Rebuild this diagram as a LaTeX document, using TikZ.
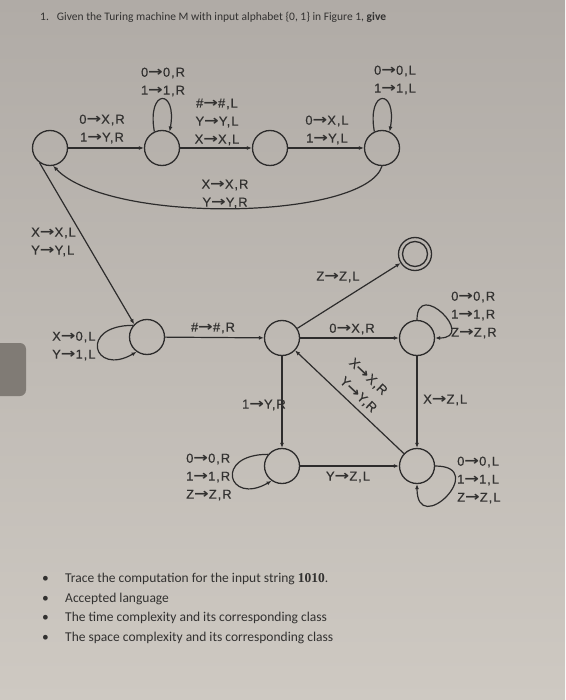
\documentclass[tikz,border=0pt]{standalone}
\usepackage{fontspec}
\setmainfont{Liberation Sans}
\newfontfamily\lblfont[FakeBold=0.3,LetterSpace=7]{Liberation Sans}
\newfontfamily\hdrfont{Carlito}
\newfontfamily\arrfont{DejaVu Sans}
\newfontfamily\numfont{Liberation Serif}
\usetikzlibrary{arrows.meta}
\newcommand\ra{\scalebox{1.35}[1.05]{\arrfont\bfseries →}}
\definecolor{bgtop}{RGB}{176,171,166}
\definecolor{bgmid}{RGB}{198,194,188}
\definecolor{bgbot}{RGB}{206,201,194}
\definecolor{tabc}{RGB}{128,123,117}
\definecolor{ln}{RGB}{45,44,44}
\definecolor{txt}{RGB}{50,49,48}
\begin{document}
\begin{tikzpicture}[x=1pt,y=1pt,
  st/.style={circle,draw=ln,line width=1.3pt,minimum size=35pt,inner sep=0pt},
  ed/.style={draw=ln,line width=1.2pt,-{Latex[length=5pt,width=4pt]}},
  lb/.style={text=txt,font=\lblfont\fontsize{13}{18}\selectfont,align=center,inner sep=0pt},
  lbl/.style={lb,align=left},
  tx/.style={text=txt,inner sep=0pt,anchor=base west}]
\shade[top color=bgtop, middle color=bgmid, bottom color=bgbot] (0,0) rectangle (565,-700);
\useasboundingbox (0,0) rectangle (565,-700);
\fill[tabc, rounded corners=6pt] (-12,-343) rectangle (26,-396);

% header
\node[tx,font=\hdrfont\fontsize{11.5}{13}\selectfont] (hd) at (40,-21)
  {1.\hspace{8pt}Given the Turing machine M with input alphabet \{0, 1\} in Figure 1, \textbf{give}};

% states
\node[st] (q0) at (50,-148) {};
\node[st] (q1) at (162,-148) {};
\node[st] (q2) at (270,-148) {};
\node[st] (q3) at (382,-148) {};
\node[st] (q4) at (147,-337) {};
\node[st] (q5) at (282,-338) {};
\node[st] (q6) at (417,-338) {};
\node[st,minimum size=33pt] (acc) at (415,-254) {};
\draw[ln,line width=1.3pt] (acc.center) circle (12.5pt);
\node[st] (q7) at (282,-466) {};
\node[st] (q8) at (417,-466) {};

% edges
\draw[ed] (q0) -- (q1);
\draw[ed] (q1) -- (q2);
\draw[ed] (q2) -- (q3);
\draw[ed] (q1.115) .. controls +(100:44) and +(80:44) .. (q1.65);
\draw[ed] (q3.115) .. controls +(100:44) and +(80:44) .. (q3.65);
\draw[ed] (q3.south) .. controls (365,-220) and (110,-225) .. (q0.-80);
\draw[ed] (q0.235) -- (q4.135);
\draw[ed] (q4.140) .. controls +(180:55) and +(210:50) .. (q4.235);
\draw[ed] (q4) -- (q5);
\draw[ed] (q5) -- (acc);
\draw[ed] (q5) -- (q6);
\draw[ed] (q6.north) .. controls +(90:42) and +(0:42) .. (q6.east);
\draw[ed] (q5) -- (q7);
\draw[ed] (q6) -- (q8);
\draw[ed] (q8) -- (q5);
\draw[ed] (q7.140) .. controls +(180:55) and +(210:50) .. (q7.235);
\draw[ed] (q7) -- (q8);
\draw[ed] (q8.east) .. controls +(0:55) and +(270:55) .. (q8.south);

% labels
\node[lb] (l01) at (102,-129) {0\ra X,R\\1\ra Y,R};
\node[lb] (l11) at (163,-82) {0\ra 0,R\\1\ra 1,R};
\node[lb] (l12) at (217,-122) {\#\ra\#,L\\Y\ra Y,L\\X\ra X,L};
\node[lb] (l23) at (327,-130) {0\ra X,L\\1\ra Y,L};
\node[lb] (l33) at (395,-80) {0\ra 0,L\\1\ra 1,L};
\node[lb] (l30) at (225,-194) {X\ra X,R\\Y\ra Y,R};
\node[lbl,anchor=west] (l04) at (31,-242) {X\ra X,L\\Y\ra Y,L};
\node[lbl,anchor=west] (l44) at (52,-346) {X\ra 0,L\\Y\ra 1,L};
\node[lb] (l45) at (213,-328) {\#\ra\#,R};
\node[lb] (l5a) at (338,-277) {Z\ra Z,L};
\node[lb] (l56) at (352,-329) {0\ra X,R};
\node[lbl,anchor=west] (l66) at (451,-315) {0\ra 0,R\\1\ra 1,R\\Z\ra Z,R};
\node[lb,anchor=east] (l57) at (286,-405) {1\ra Y,R};
\node[lb,rotate=-43.3] (l85a) at (368,-377) {X\ra X,R};
\node[lb,rotate=-43.3] (l85b) at (358,-395) {Y\ra Y,R};
\node[lbl,anchor=west] (l68) at (423,-400) {X\ra Z,L};
\node[lbl,anchor=west] (l77) at (186,-477) {0\ra 0,R\\1\ra 1,R\\Z\ra Z,R};
\node[lb] (l78) at (348,-477) {Y\ra Z,L};
\node[lbl,anchor=west] (l88) at (457,-480) {0\ra 0,L\\1\ra 1,L\\Z\ra Z,L};

% questions
\begin{scope}[font=\hdrfont\fontsize{13.5}{16}\selectfont]
\node[tx] (b1) at (42,-582) {\makebox[23pt][l]{•}Trace the computation for the input string {\numfont\bfseries 1010}.};
\node[tx] (b2) at (42,-602) {\makebox[23pt][l]{•}Accepted language};
\node[tx] (b3) at (42,-621) {\makebox[23pt][l]{•}The time complexity and its corresponding class};
\node[tx] (b4) at (42,-641) {\makebox[23pt][l]{•}The space complexity and its corresponding class};
\end{scope}
\end{tikzpicture}
\end{document}
